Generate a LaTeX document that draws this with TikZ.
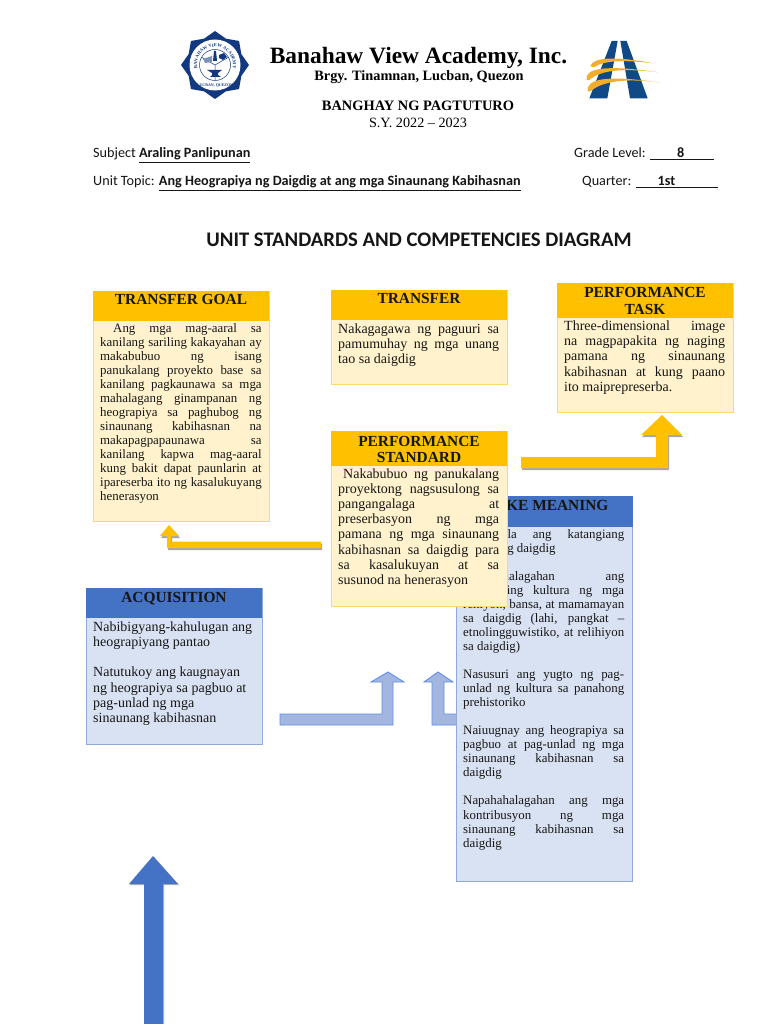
\documentclass[tikz,border=0pt]{standalone}
\usepackage{fontspec}
\setmainfont{Liberation Serif}
\newfontfamily\calib{Carlito}
\usetikzlibrary{shadows,decorations.text}
\definecolor{gold}{HTML}{FFC000}
\definecolor{goldlt}{HTML}{FFF2CC}
\definecolor{goldln}{HTML}{FFD966}
\definecolor{blu}{HTML}{4472C4}
\definecolor{blult}{HTML}{D9E2F3}
\definecolor{bluln}{HTML}{8EAADB}
\definecolor{arrlt}{HTML}{A3B6E0}
\definecolor{arrln}{HTML}{5F8FE3}
\definecolor{navy}{HTML}{12387F}
\definecolor{logob}{HTML}{0F4A87}
\definecolor{logog}{HTML}{F0AE2B}
\definecolor{ink}{HTML}{161616}
\newcommand{\jl}[1]{\noindent\makebox[\hsize][s]{#1}\par}
\newcommand{\lf}[1]{\noindent #1\par}
\newcommand{\bl}{\noindent\null\par}
\newcommand{\bodytext}[4]{\parbox[t]{#1pt}{\fontsize{#2}{#3}\selectfont\parindent=0pt #4}}
\tikzset{
  panel/.style={anchor=north west,inner sep=0,outer sep=0,line width=.9pt},
  goldbox/.style={panel,draw=goldln,fill=goldlt},
  bluebox/.style={panel,draw=bluln,fill=blult},
  goldhead/.style={panel,fill=gold,line width=0},
  bluehead/.style={panel,fill=blu,line width=0},
  headtext/.style={anchor=base,inner sep=0,text=ink,font=\fontsize{15.4}{15.4}\selectfont\bfseries},
  bodynode/.style={anchor=base west,inner sep=0,text=ink},
  hdr/.style={inner sep=0,anchor=base,text=black},
  meta/.style={inner sep=0,anchor=base west,text=ink,font=\calib\fontsize{14.2}{14.2}\selectfont},
  goldarrow/.style={fill=gold,drop shadow={shadow xshift=1pt,shadow yshift=-2pt,opacity=.35,fill=black}},
  lightarrow/.style={fill=arrlt,draw=arrln,line width=.9pt,line join=miter},
  bigarrow/.style={fill=blu,drop shadow={shadow xshift=1pt,shadow yshift=-1pt,opacity=.3,fill=black}}
}
\begin{document}
\begin{tikzpicture}[x=1pt,y=-1pt]
\useasboundingbox (0,0) rectangle (768,1024);
\fill[white] (0,0) rectangle (768,1024);

% left seal
\begin{scope}[shift={(215,65)}]
  \fill[navy] (0:34) -- (22.5:28.5) -- (45:34) -- (67.5:28.5) -- (90:34) -- (112.5:28.5) -- (135:34) -- (157.5:28.5) -- (180:34) -- (202.5:28.5) -- (225:34) -- (247.5:28.5) -- (270:34) -- (292.5:28.5) -- (315:34) -- (337.5:28.5) -- cycle;
  \fill[white] (0,0) circle[radius=25.5];
  \draw[navy,line width=.5pt] (0,0) circle[radius=15.5];
  \draw[navy,line width=.5pt] (0,0) -- (0,15.5) (0,0) -- (-13.4,-7.7) (0,0) -- (13.4,-7.7);
  \path[decorate,decoration={text along path,text align=center,text={|\fontsize{4.6}{5}\selectfont\bfseries\color{navy}|BANAHAW VIEW ACADEMY}}]
    (130:18) arc[start angle=130,end angle=410,radius=18];
  \path[decorate,decoration={text along path,text align=center,text={|\fontsize{4}{5}\selectfont\bfseries\color{navy}|{LUCBAN, QUEZON}}}]
    (145:22) arc[start angle=145,end angle=35,radius=22];
  \fill[navy] (-2,-4) -- (-1,-14) -- (1,-14) -- (2,-4) -- cycle;
  \fill[navy!55] (-12,-6) -- (-3,-9) -- (-3,-3) -- (-10,-2) -- cycle;
  \fill[navy] (4,-10) -- (9,-12) -- (12,-8) -- (8,-5) -- (4,-7) -- cycle;
  \fill[navy] (-8,5) -- (7,5) -- (3,8) -- (3,10) -- (6,12) -- (-5,12) -- (-3,10) -- (-3,8) -- cycle;
\end{scope}

% right logo
\begin{scope}[shift={(575,30)},x=.3333pt,y=-.3333pt]
  \fill[logob] (110,33) -- (128,33) -- (97,205) -- (43,205) -- cycle;
  \fill[logob] (136,33) -- (155,33) -- (218,205) -- (165,205) -- cycle;
  \fill[logog] (46,108) .. controls (55,84) and (110,76) .. (235,100) .. controls (150,90) and (90,90) .. (56,112) -- cycle;
  \fill[logog] (35,150) .. controls (28,115) and (90,103) .. (250,127) .. controls (160,116) and (80,116) .. (43,150) -- cycle;
  \fill[logog] (38,184) .. controls (33,148) and (90,133) .. (255,158) .. controls (170,146) and (90,148) .. (46,184) -- cycle;
\end{scope}

% heading
\node[hdr,font=\fontsize{23.4}{24}\selectfont\bfseries] (school) at (418.5,64) {Banahaw View Academy, Inc.};
\node[hdr,font=\fontsize{14.3}{15}\selectfont\bfseries] (address) at (419,81) {Brgy. Tinamnan, Lucban, Quezon};
\node[hdr,font=\fontsize{14.4}{15}\selectfont\bfseries] (plan) at (418,111) {BANGHAY NG PAGTUTURO};
\node[hdr,font=\fontsize{14.2}{15}\selectfont] (year) at (418,128) {S.Y. 2022 -- 2023};

\node[meta] (subject) at (93,158) {Subject \textbf{\underline{Araling Panlipunan}}};
\node[meta] (grade) at (574,158) {Grade Level: \textbf{\underline{\hspace{27pt}8\hspace{30pt}}}};
\node[meta] (topic) at (93,186) {Unit Topic: \textbf{\underline{Ang Heograpiya ng Daigdig at ang mga Sinaunang Kabihasnan}}};
\node[meta] (quarter) at (582,186) {Quarter: \textbf{\underline{\hspace{22pt}1st\hspace{43pt}}}};
\node[hdr,font=\calib\fontsize{20.7}{21}\selectfont\bfseries,text=ink] (title) at (419,246) {UNIT STANDARDS AND COMPETENCIES DIAGRAM};

% block arrows
\fill[goldarrow] (321,541.5) -- (171,541.5) -- (171,536) -- (179,536) -- (169,525) -- (160,536) -- (167,536) -- (167,548) -- (321,548) -- cycle;
\fill[goldarrow] (521,457) -- (656,457) -- (656,435) -- (641,435) -- (662,415) -- (682,435) -- (668,435) -- (668,468) -- (521,468) -- cycle;
\draw[lightarrow] (280,714) -- (382,714) -- (382,682) -- (371,682) -- (388,672) -- (404,682) -- (393,682) -- (393,725) -- (280,725) -- cycle;
\draw[lightarrow] (470,714) -- (444,714) -- (444,682) -- (453,682) -- (438,672) -- (424,682) -- (432,682) -- (432,725) -- (470,725) -- cycle;
\fill[bigarrow] (144,1030) -- (144,884) -- (129,884) -- (153,856) -- (178,884) -- (163,884) -- (163,1030) -- cycle;

% transfer goal
\node[goldbox,minimum width=176pt,minimum height=230pt] (tgbox) at (93,291) {};
\node[goldhead,minimum width=176pt,minimum height=30pt] (tghead) at (93,291) {};
\node[headtext] (tgtitle) at (181,304) {TRANSFER GOAL};
\node[bodynode] (tgtext) at (100,332) {\bodytext{161.5}{12.9}{14.06}{%
\jl{\hspace*{13pt}Ang mga mag-aaral sa}
\jl{kanilang sariling kakayahan ay}
\jl{makabubuo ng isang}
\jl{panukalang proyekto base sa}
\jl{kanilang pagkaunawa sa mga}
\jl{mahalagang ginampanan ng}
\jl{heograpiya sa paghubog ng}
\jl{sinaunang kabihasnan na}
\jl{makapagpapaunawa sa}
\jl{kanilang kapwa mag-aaral}
\jl{kung bakit dapat paunlarin at}
\jl{ipareserba ito ng kasalukuyang}
\lf{henerasyon}}};

% transfer
\node[goldbox,minimum width=176pt,minimum height=94pt] (trbox) at (331,290) {};
\node[goldhead,minimum width=176pt,minimum height=30pt] (trhead) at (331,290) {};
\node[headtext] (trtitle) at (419,303) {TRANSFER};
\node[bodynode] (trtext) at (338,333) {\bodytext{161}{14}{15.3}{%
\jl{Nakagagawa ng paguuri sa}
\jl{pamumuhay ng mga unang}
\lf{tao sa daigdig}}};

% performance task
\node[goldbox,minimum width=176pt,minimum height=129pt] (ptbox) at (557,283) {};
\node[goldhead,minimum width=176pt,minimum height=35pt] (pthead) at (557,283) {};
\node[headtext] (pttitle) at (645,297) {PERFORMANCE};
\node[headtext] (pttitleb) at (645,314) {TASK};
\node[bodynode] (pttext) at (564,330) {\bodytext{161}{14}{15.4}{%
\jl{Three-dimensional image}
\jl{na magpapakita ng naging}
\jl{pamana ng sinaunang}
\jl{kabihasnan at kung paano}
\lf{ito maiprepreserba.}}};

% make meaning
\node[bluebox,minimum width=176pt,minimum height=385pt] (mmbox) at (456.5,496) {};
\node[bluehead,minimum width=176pt,minimum height=31pt] (mmhead) at (456.5,496) {};
\node[headtext] (mmtitle) at (544.5,510) {MAKE MEANING};
\node[bodynode] (mmtext) at (463,538) {\bodytext{161}{12.9}{14.05}{%
\jl{Nakikilala ang katangiang}
\lf{pisikal ng daigdig}
\bl
\jl{Napahahalagahan ang}
\jl{natatanging kultura ng mga}
\jl{rehiyon, bansa, at mamamayan}
\jl{sa daigdig (lahi, pangkat --}
\jl{etnolingguwistiko, at relihiyon}
\lf{sa daigdig)}
\bl
\jl{Nasusuri ang yugto ng pag-}
\jl{unlad ng kultura sa panahong}
\lf{prehistoriko}
\bl
\jl{Naiuugnay ang heograpiya sa}
\jl{pagbuo at pag-unlad ng mga}
\jl{sinaunang kabihasnan sa}
\lf{daigdig}
\bl
\jl{Napahahalagahan ang mga}
\jl{kontribusyon ng mga}
\jl{sinaunang kabihasnan sa}
\lf{daigdig}}};

% performance standard
\node[goldbox,minimum width=176pt,minimum height=175pt] (psbox) at (331,431) {};
\node[goldhead,minimum width=176pt,minimum height=35pt] (pshead) at (331,431) {};
\node[headtext] (pstitle) at (419,446) {PERFORMANCE};
\node[headtext] (pstitleb) at (419,462) {STANDARD};
\node[bodynode] (pstext) at (338,478) {\bodytext{161}{14}{15.2}{%
\jl{\hspace*{5pt}Nakabubuo ng panukalang}
\jl{proyektong nagsusulong sa}
\jl{pangangalaga at}
\jl{preserbasyon ng mga}
\jl{pamana ng mga sinaunang}
\jl{kabihasnan sa daigdig para}
\jl{sa kasalukuyan at sa}
\lf{susunod na henerasyon}}};

% acquisition
\node[bluebox,minimum width=176pt,minimum height=156pt] (acbox) at (86,588) {};
\node[bluehead,minimum width=176pt,minimum height=30pt] (achead) at (86,588) {};
\node[headtext] (actitle) at (174,602) {ACQUISITION};
\node[bodynode] (actext) at (93,631) {\bodytext{165}{14}{15.3}{%
\lf{Nabibigyang-kahulugan ang}
\lf{heograpiyang pantao}
\bl
\lf{Natutukoy ang kaugnayan}
\lf{ng heograpiya sa pagbuo at}
\lf{pag-unlad ng mga}
\lf{sinaunang kabihasnan}}};
\end{tikzpicture}
\end{document}
